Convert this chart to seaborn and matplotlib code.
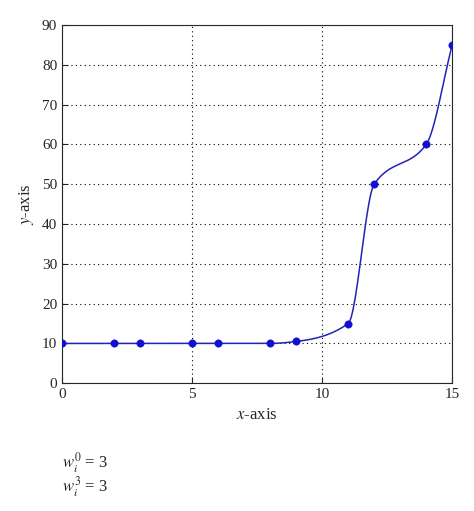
import numpy as np
import matplotlib
matplotlib.use("Agg")
import matplotlib.pyplot as plt
import seaborn as sns

# data points
x_pts = [0, 2, 3, 5, 6, 8, 9, 11, 12, 14, 15]
y_pts = [10, 10, 10, 10, 10, 10, 10.5, 15, 50, 60, 85]
x_ticks = [0, 5, 10, 15]
y_ticks = list(range(0, 91, 10))


def pchip(x, y, xs):
    # monotone cubic Hermite through the given points
    x = np.asarray(x, float); y = np.asarray(y, float)
    h = np.diff(x); d = np.diff(y) / h
    m = np.zeros_like(y)
    for k in range(1, len(x) - 1):
        if d[k - 1] * d[k] > 0:
            w1 = 2 * h[k] + h[k - 1]; w2 = h[k] + 2 * h[k - 1]
            m[k] = (w1 + w2) / (w1 / d[k - 1] + w2 / d[k])
    m[0] = d[0]; m[-1] = d[-1]
    idx = np.clip(np.searchsorted(x, xs) - 1, 0, len(h) - 1)
    t = (xs - x[idx]) / h[idx]
    h00 = 2 * t**3 - 3 * t**2 + 1; h10 = t**3 - 2 * t**2 + t
    h01 = -2 * t**3 + 3 * t**2; h11 = t**3 - t**2
    return (h00 * y[idx] + h10 * h[idx] * m[idx] + h01 * y[idx + 1]
            + h11 * h[idx] * m[idx + 1])


sns.set_style("ticks")
plt.rcParams['font.family'] = ['Liberation Serif', 'DejaVu Serif']
plt.rcParams['mathtext.fontset'] = 'stix'

fig = plt.figure(figsize=(4.74, 5.11), dpi=100)
ax = fig.add_axes([0.131, 0.25, 0.823, 0.701])

xs = np.linspace(0, 15, 400)
sns.lineplot(x=xs, y=pchip(x_pts, y_pts, xs), color="#2323b4", linewidth=1.1, ax=ax)
sns.scatterplot(x=x_pts, y=y_pts, color="#1010d0", s=28, edgecolor="#1010d0", zorder=5, ax=ax)

ax.set_xlim(0, 15); ax.set_ylim(0, 90)
ax.set_xticks(x_ticks); ax.set_yticks(y_ticks)
ax.grid(True, linestyle=(0, (1, 3)), color="black", linewidth=0.8)
ax.tick_params(direction="in", labelsize=11, length=4)
for s in ax.spines.values():
    s.set_linewidth(0.8)
ax.set_xlabel(r"$x$-axis", fontsize=12)
ax.set_ylabel(r"$y$-axis", fontsize=12)

fig.text(0.131, 0.085, r"$w_i^0$ = 3", fontsize=12)
fig.text(0.131, 0.037, r"$w_i^3$ = 3", fontsize=12)

fig.savefig("out.png", dpi=100)
